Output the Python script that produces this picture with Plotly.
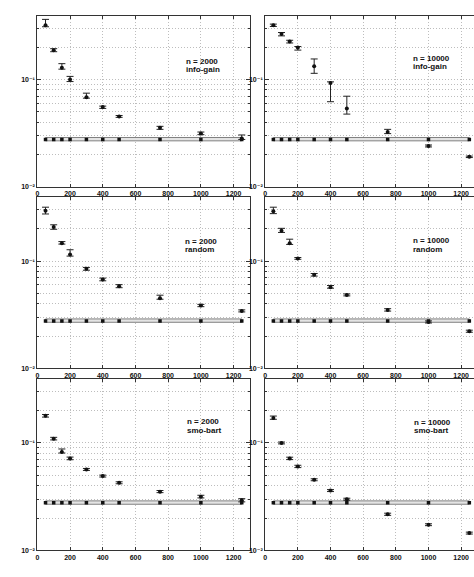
import plotly.graph_objects as go

# ---------------- data ----------------
x_vals = [50, 100, 150, 200, 300, 400, 500, 750, 1000, 1250]

baseline_mid = 0.0277
baseline_lo = 0.0269
baseline_hi = 0.0289

# panel 1: n = 2000, info-gain
p1_mid = [0.320, 0.1876, 0.129, 0.100, 0.0686, 0.0554, 0.0454, 0.0357, 0.0314, 0.0283]
p1_hi = [0.363, 0.1937, 0.1406, 0.107, 0.0747, 0.0566, 0.0463, 0.0367, 0.0325, 0.0305]
p1_lo = [0.310, 0.1817, 0.125, 0.0958, 0.0671, 0.0539, 0.0445, 0.0344, 0.0307, 0.0277]
# panel 2: n = 10000, info-gain
p2_mid = [0.321, 0.265, 0.226, 0.199, 0.1327, 0.0931, 0.0539, 0.0325, 0.0241, 0.0191]
p2_hi = [0.328, 0.274, 0.232, 0.203, 0.1555, 0.0952, 0.0700, 0.0344, 0.0246, 0.0194]
p2_lo = [0.312, 0.255, 0.219, 0.188, 0.1143, 0.0622, 0.0477, 0.0314, 0.0236, 0.0188]
# panel 3: n = 2000, random
p3_mid = [0.295, 0.208, 0.147, 0.1154, 0.0847, 0.0675, 0.0584, 0.0451, 0.0385, 0.0343]
p3_hi = [0.318, 0.218, 0.152, 0.1276, 0.0873, 0.0694, 0.0603, 0.0481, 0.0395, 0.0351]
p3_lo = [0.275, 0.198, 0.144, 0.1113, 0.0822, 0.0655, 0.0565, 0.0441, 0.0376, 0.0336]
# panel 4: n = 10000, random
p4_mid = [0.291, 0.192, 0.147, 0.106, 0.0745, 0.0571, 0.0484, 0.0351, 0.0271, 0.0222]
p4_hi = [0.318, 0.202, 0.160, 0.108, 0.0766, 0.0592, 0.0494, 0.0360, 0.0277, 0.0227]
p4_lo = [0.277, 0.185, 0.143, 0.104, 0.0725, 0.0559, 0.0474, 0.0342, 0.0265, 0.0217]
# panel 5: n = 2000, smo-bart
p5_mid = [0.179, 0.1097, 0.0824, 0.0718, 0.0567, 0.0492, 0.0426, 0.0351, 0.0315, 0.0293]
p5_hi = [0.184, 0.1128, 0.0879, 0.0739, 0.0579, 0.0502, 0.0435, 0.0361, 0.0326, 0.0303]
p5_lo = [0.174, 0.1067, 0.0807, 0.0698, 0.0555, 0.0482, 0.0417, 0.0345, 0.0308, 0.0283]
# panel 6: n = 10000, smo-bart
p6_mid = [0.171, 0.100, 0.0718, 0.0604, 0.0454, 0.0361, 0.0300, 0.0217, 0.0173, 0.01452]
p6_hi = [0.178, 0.102, 0.0737, 0.0620, 0.0464, 0.0368, 0.0306, 0.0222, 0.0177, 0.0148]
p6_lo = [0.166, 0.098, 0.0700, 0.0590, 0.0445, 0.0353, 0.0293, 0.0212, 0.0170, 0.0142]

panel_labels = [("n = 2000", "info-gain"), ("n = 10000", "info-gain"),
                ("n = 2000", "random"), ("n = 10000", "random"),
                ("n = 2000", "smo-bart"), ("n = 10000", "smo-bart")]

x_ticks = [0, 200, 400, 600, 800, 1000, 1200]
y_ticks = [0.01, 0.1]
y_ticktext = ["10\u207b\u00b2", "10\u207b\u00b9"]
y_minor = [0.02, 0.03, 0.04, 0.05, 0.06, 0.07, 0.08, 0.09, 0.2, 0.3]

# ---------------- layout geometry ----------------
W, H = 474, 577
col_dom = [[35.5 / W, 249.0 / W], [264.3 / W, 1.0]]
col_xmax = [1300, (W - 264.3) / 0.164]
row_px = [(15.7, 188.0), (198.3, 370.3), (381.0, 553.3)]
row_dom = [[1 - b / H, 1 - t / H] for t, b in row_px]

# annotation positions (pixels: left x, line-1 centre y, line-2 centre y)
label_pos = [(182.3, 61.7, 69.6), (411.0, 58.7, 67.3),
             (182.0, 242.3, 250.8), (411.0, 242.0, 250.4),
             (183.7, 423.3, 432.4), (412.0, 424.3, 433.2)]

panels = [(p1_mid, p1_lo, p1_hi), (p2_mid, p2_lo, p2_hi),
          (p3_mid, p3_lo, p3_hi), (p4_mid, p4_lo, p4_hi),
          (p5_mid, p5_lo, p5_hi), (p6_mid, p6_lo, p6_hi)]

fig = go.Figure()
font_fam = "Liberation Sans, Arial, DejaVu Sans, sans-serif"
grid_col = "#bdbdbd"
grid_dash = "1px,2px"
axis_col = "#333333"

for i, (mid, lo, hi) in enumerate(panels):
    r, c = divmod(i, 2)
    n = i + 1
    xa = "x" if n == 1 else f"x{n}"
    ya = "y" if n == 1 else f"y{n}"
    xkey = "xaxis" if n == 1 else f"xaxis{n}"
    ykey = "yaxis" if n == 1 else f"yaxis{n}"

    # baseline band
    bx = [x_vals[0], x_vals[-1], x_vals[-1], x_vals[0], x_vals[0]]
    by = [baseline_hi, baseline_hi, baseline_lo, baseline_lo, baseline_hi]
    fig.add_trace(go.Scatter(x=bx, y=by, mode="lines", fill="toself",
                             fillcolor="#e4e4e4", line=dict(color="#808080", width=1),
                             xaxis=xa, yaxis=ya, showlegend=False, hoverinfo="skip"))
    fig.add_trace(go.Scatter(x=x_vals, y=[baseline_mid] * len(x_vals), mode="markers",
                             marker=dict(color="#111111", size=3.5, symbol="square"),
                             xaxis=xa, yaxis=ya, showlegend=False))
    plus = [h - m for h, m in zip(hi, mid)]
    minus = [m - l for m, l in zip(mid, lo)]
    fig.add_trace(go.Scatter(x=x_vals, y=mid, mode="markers",
                             marker=dict(color="#111111", size=4, symbol="circle"),
                             error_y=dict(type="data", array=plus, arrayminus=minus,
                                          symmetric=False, color="#222222",
                                          thickness=1, width=3.5),
                             xaxis=xa, yaxis=ya, showlegend=False))

    fig.layout[xkey] = dict(
        domain=col_dom[c], range=[0, col_xmax[c]], anchor=ya,
        tickvals=x_ticks, ticks="inside", ticklen=3, tickcolor=axis_col,
        showline=True, linecolor=axis_col, linewidth=1, mirror="ticks",
        showgrid=True, gridcolor=grid_col, griddash=grid_dash, gridwidth=1,
        zeroline=False,
        tickfont=dict(family=font_fam, size=7, color="#111111", weight="bold"),
    )
    fig.layout[ykey] = dict(
        domain=row_dom[r], type="log", range=[-2, -0.405], anchor=xa,
        tickvals=y_ticks, ticktext=y_ticktext, ticks="inside", ticklen=4,
        tickcolor=axis_col,
        showline=True, linecolor=axis_col, linewidth=1,
        mirror="ticks" if c == 0 else False,
        showgrid=True, gridcolor=grid_col, griddash=grid_dash, gridwidth=1,
        zeroline=False,
        minor=dict(tickvals=y_minor, ticks="inside", ticklen=2, tickcolor=axis_col,
                   showgrid=True, gridcolor=grid_col, griddash=grid_dash, gridwidth=1),
        tickfont=dict(family=font_fam, size=7, color="#111111", weight="bold"),
    )

    lx, ly1, ly2 = label_pos[i]
    for txt, yy in zip(panel_labels[i], (ly1, ly2)):
        fig.add_annotation(x=lx / W, y=1 - yy / H, xref="paper", yref="paper",
                           text=txt, showarrow=False, xanchor="left", yanchor="middle",
                           font=dict(family=font_fam, size=8, color="#111111",
                                     weight="bold"))

fig.update_layout(width=W, height=H, margin=dict(l=0, r=0, t=0, b=0),
                  paper_bgcolor="white", plot_bgcolor="white", showlegend=False)

fig.write_html("out.html")
